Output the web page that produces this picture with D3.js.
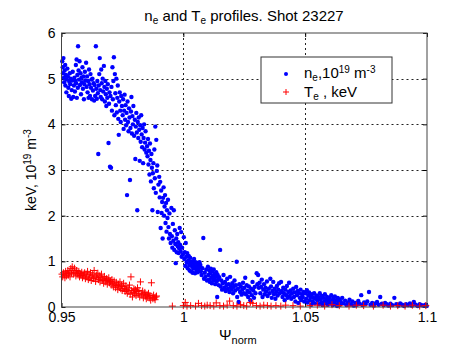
<!DOCTYPE html>
<html>
<head>
<meta charset="utf-8">
<script src="https://cdn.jsdelivr.net/npm/d3@7"></script>
<style>
  body { margin: 0; background: #fff; }
  svg { font-family: "Liberation Sans", Arial, sans-serif; }
</style>
</head>
<body>
<svg width="474" height="351"></svg>
<script>
// axis ticks
var xTicks = [0.95, 1, 1.05, 1.1];
var yTicks = [0, 1, 2, 3, 4, 5, 6];

// n_e points (psi_norm, 10^19 m^-3)
var nePoints = [
  [0.9503,5.38],[0.9505,5.25],[0.9506,5.12],[0.9508,5.45],[0.951,5.02],[0.9511,4.92],[0.9513,5.18],[0.9515,5.3],[0.9516,4.85],[0.9518,5.08],[0.952,4.7],[0.9522,4.98],[0.9524,5.22],[0.9526,5.05],[0.9528,4.8],[0.953,4.62],[0.9532,4.93],[0.9534,5.12],[0.9536,4.88],[0.9538,5.0],[0.954,4.56],[0.9542,4.75],[0.9544,4.96],[0.9546,5.15],[0.9548,4.6],
  [0.9551,4.85],[0.9553,5.02],[0.9555,4.72],[0.9557,4.95],[0.9559,5.3],[0.956,4.9],[0.9562,5.42],[0.9563,4.58],[0.9565,5.08],[0.9567,4.8],[0.9568,5.71],[0.957,5.18],[0.9572,4.98],[0.9574,5.38],[0.9576,4.86],[0.9578,5.12],[0.958,4.66],[0.9582,5.02],[0.9584,4.92],[0.9586,5.25],[0.9588,4.78],[0.959,5.05],[0.9592,4.55],[0.9594,4.88],[0.9596,5.15],[0.9598,4.96],
  [0.9601,5.35],[0.9603,4.82],[0.9605,5.05],[0.9607,4.7],[0.9609,4.95],[0.9611,4.58],[0.9613,5.2],[0.9615,4.88],[0.9617,4.62],[0.9619,5.1],[0.9621,4.8],[0.9623,4.98],[0.9625,4.55],[0.9627,5.0],[0.9629,4.74],[0.9632,4.9],[0.9634,4.52],[0.9636,4.86],[0.9638,4.62],[0.9641,5.71],[0.9643,4.78],[0.9645,4.56],[0.9647,4.95],[0.9649,4.68],
  [0.9651,3.35],[0.9653,4.85],[0.9655,5.1],[0.9657,5.45],[0.9659,4.75],[0.9661,4.6],[0.9663,5.2],[0.9665,4.9],[0.9667,4.55],[0.9669,5.0],[0.9671,4.72],[0.9674,5.28],[0.9676,4.82],[0.9678,4.5],[0.968,4.95],[0.9682,4.66],[0.9684,4.4],[0.9686,4.78],[0.9688,4.58],[0.969,4.88],[0.9693,3.59],[0.9695,4.45],[0.9697,4.7],[0.9699,3.07],
  [0.9701,4.62],[0.9703,3.05],[0.9705,4.82],[0.9707,4.3],[0.9709,5.25],[0.9711,4.55],[0.9713,4.95],[0.9715,5.47],[0.9717,4.2],[0.9719,5.1],[0.9721,4.68],[0.9723,4.42],[0.9725,5.0],[0.9727,4.26],[0.9729,4.58],[0.9731,4.85],[0.9733,4.12],[0.9735,3.77],[0.9737,4.5],[0.9739,4.7],[0.9741,4.3],[0.9743,4.05],[0.9745,4.62],[0.9748,4.4],
  [0.9751,4.2],[0.9753,4.55],[0.9755,3.9],[0.9757,4.3],[0.9759,4.65],[0.9761,4.1],[0.9763,4.42],[0.9765,3.98],[0.9767,4.25],[0.9769,2.45],[0.9771,4.5],[0.9773,4.05],[0.9775,3.85],[0.9777,4.35],[0.9779,4.15],[0.9781,2.78],[0.9783,3.92],[0.9785,4.28],[0.9787,4.6],[0.9789,3.8],[0.9791,4.18],[0.9793,4.0],[0.9795,4.4],[0.9798,3.75],
  [0.9801,4.1],[0.9803,3.24],[0.9805,3.95],[0.9807,4.25],[0.9809,3.82],[0.9811,2.12],[0.9813,4.05],[0.9815,3.7],[0.9817,4.15],[0.9819,3.88],[0.9821,3.2],[0.9823,3.98],[0.9825,3.62],[0.9827,4.2],[0.9829,3.78],[0.9831,3.5],[0.9833,3.92],[0.9835,3.15],[0.9837,3.7],[0.9839,4.0],[0.9841,3.45],[0.9843,3.6],[0.9845,3.85],[0.9848,3.38],
  [0.9851,3.52],[0.9853,3.3],[0.9855,3.68],[0.9857,3.12],[0.9859,3.42],[0.9861,2.9],[0.9863,3.58],[0.9865,3.22],[0.9867,2.75],[0.9869,3.35],[0.9871,3.05],[0.9873,2.12],[0.9875,2.93],[0.9877,3.15],[0.9879,2.6],[0.9881,3.45],[0.9883,2.82],[0.9885,3.95],[0.9887,2.5],[0.9889,3.66],[0.9891,2.98],[0.9893,3.1],[0.9895,2.08],[0.9898,2.68],
  [0.9901,2.85],[0.9903,2.4],[0.9905,2.74],[0.9907,1.73],[0.9909,2.55],[0.9911,2.06],[0.9913,2.3],[0.9915,1.5],[0.9917,2.39],[0.9919,2.62],[0.9921,2.0],[0.9923,2.2],[0.9925,2.45],[0.9927,1.84],[0.9929,2.28],[0.9931,1.65],[0.9933,2.12],[0.9935,1.95],[0.9937,2.35],[0.9939,1.75],[0.9941,1.5],[0.9943,2.05],[0.9945,1.6],[0.9948,1.4],
  [0.9951,2.17],[0.9953,1.55],[0.9955,1.3],[0.9957,1.82],[0.9959,1.45],[0.9961,2.12],[0.9963,1.25],[0.9965,1.68],[0.9967,1.38],[0.9969,0.96],[0.9971,1.5],[0.9973,1.2],[0.9975,1.6],[0.9977,1.33],[0.9979,1.42],[0.9981,1.18],[0.9983,1.28],[0.9985,1.73],[0.9987,1.36],[0.9989,1.22],[0.9991,1.64],[0.9993,1.1],[0.9995,1.3],[0.9998,1.15],
  [1.0002,1.53],[1.0004,1.05],[1.0006,1.2],[1.0008,0.9],[1.001,1.4],[1.0012,1.1],[1.0014,0.98],[1.0016,1.18],[1.0018,0.85],[1.002,1.02],[1.0022,1.12],[1.0024,0.92],[1.0026,0.8],[1.0028,1.08],[1.003,0.95],[1.0032,0.78],[1.0034,1.0],[1.0036,0.88],[1.0038,0.75],[1.004,0.96],[1.0042,0.84],[1.0044,1.05],[1.0046,0.9],[1.0048,0.74],
  [1.0051,0.98],[1.0053,0.86],[1.0055,0.8],[1.0057,0.92],[1.0059,0.76],[1.0061,0.95],[1.0063,0.84],[1.0066,0.98],[1.0068,0.88],[1.007,0.92],[1.0072,0.78],[1.0075,0.7],[1.0078,0.85],[1.0082,1.51],[1.0085,0.62],[1.0088,0.75],[1.0091,0.66],[1.0094,0.82],[1.0097,0.58],
  [1.0101,0.88],[1.0103,0.7],[1.0105,0.6],[1.0107,0.8],[1.0109,0.55],[1.0111,0.74],[1.0113,0.84],[1.0115,0.64],[1.0117,0.52],[1.0119,0.78],[1.0121,0.68],[1.0123,0.58],[1.0125,0.82],[1.0127,0.62],[1.0129,0.72],[1.0131,0.5],[1.0133,0.66],[1.0135,0.76],[1.0137,0.56],[1.0139,0.22],[1.0141,0.7],[1.0143,0.6],[1.0145,0.48],[1.0147,0.65],[1.0151,1.25],
  [1.0153,0.45],[1.0156,0.58],[1.0159,0.38],[1.0162,0.52],[1.0165,0.7],[1.0168,0.42],[1.0171,0.55],[1.0174,0.35],[1.0177,0.48],[1.018,0.62],[1.0183,0.4],[1.0186,0.5],[1.0189,0.33],[1.0192,0.66],[1.0195,0.45],[1.0198,0.38],
  [1.0201,0.52],[1.0204,0.3],[1.0207,0.44],[1.021,0.58],[1.0213,0.36],[1.0216,0.48],[1.0219,0.99],[1.0221,0.22],[1.0224,0.4],[1.0227,0.11],[1.023,0.5],[1.0233,0.33],[1.0236,0.45],[1.0239,0.27],[1.0242,0.38],[1.0245,0.53],[1.0248,0.3],
  [1.0251,0.42],[1.0254,0.64],[1.0257,0.28],[1.026,0.48],[1.0263,0.35],[1.0266,0.22],[1.0269,0.45],[1.0272,0.32],[1.0275,0.15],[1.0278,0.4],[1.0281,0.26],[1.0284,0.55],[1.0287,0.36],[1.029,0.2],[1.0293,0.44],[1.0296,0.3],
  [1.0301,0.74],[1.0304,0.5],[1.0307,0.7],[1.031,0.42],[1.0313,0.53],[1.0316,0.3],[1.0319,0.44],[1.0322,0.6],[1.0325,0.22],[1.0328,0.38],[1.0331,0.5],[1.0334,0.28],[1.0337,0.42],[1.034,0.34],[1.0343,0.56],[1.0346,0.24],
  [1.0351,0.4],[1.0354,0.3],[1.0357,0.62],[1.036,0.45],[1.0363,0.2],[1.0366,0.35],[1.0369,0.55],[1.0372,0.28],[1.0375,0.4],[1.0378,0.18],[1.0381,0.33],[1.0384,0.46],[1.0387,0.25],[1.039,0.38],[1.0393,0.52],[1.0396,0.3],
  [1.0401,0.55],[1.0404,0.35],[1.0407,0.22],[1.041,0.42],[1.0413,0.3],[1.0416,0.15],[1.0419,0.38],[1.0422,0.26],[1.0425,0.46],[1.0428,0.2],[1.0431,0.33],[1.0434,0.53],[1.0437,0.24],[1.044,0.36],[1.0443,0.18],[1.0446,0.3],
  [1.0451,0.4],[1.0454,0.22],[1.0457,0.32],[1.046,0.12],[1.0463,0.44],[1.0466,0.26],[1.0469,0.35],[1.0472,0.09],[1.0475,0.3],[1.0478,0.2],[1.0481,0.38],[1.0484,0.15],[1.0487,0.28],[1.049,0.22],[1.0493,0.33],[1.0496,0.12],
  [1.0501,0.3],[1.0504,0.18],[1.0507,0.37],[1.051,0.1],[1.0513,0.25],[1.0516,0.32],[1.0519,0.15],[1.0522,0.22],[1.0525,0.05],[1.0528,0.28],[1.0531,0.12],[1.0534,0.2],[1.0537,0.3],[1.054,0.08],[1.0543,0.18],[1.0546,0.25],
  [1.0551,0.14],[1.0554,0.22],[1.0557,0.06],[1.056,0.3],[1.0563,0.17],[1.0566,0.1],[1.0569,0.24],[1.0572,0.04],[1.0575,0.2],[1.0578,0.12],[1.0581,0.28],[1.0584,0.08],[1.0587,0.16],[1.059,0.22],[1.0593,0.05],[1.0596,0.13],
  [1.0601,0.2],[1.0604,0.08],[1.0607,0.26],[1.061,0.14],[1.0613,0.04],[1.0616,0.18],[1.0619,0.1],[1.0622,0.23],[1.0625,0.06],[1.0628,0.15],[1.0631,0.02],[1.0634,0.2],[1.0637,0.1],[1.064,0.16],[1.0643,0.05],[1.0646,0.12],
  [1.0652,0.2],[1.0658,0.08],[1.0664,0.14],[1.067,0.04],[1.0676,0.1],[1.0682,0.16],[1.0688,0.06],[1.0694,0.12],[1.07,0.03],[1.0706,0.09],[1.0712,0.05],[1.0718,0.13],[1.0724,0.07],[1.073,0.26],[1.0736,0.04],[1.0742,0.1],[1.0748,0.06],
  [1.0755,0.12],[1.0762,0.33],[1.0768,0.05],[1.0775,0.09],[1.0782,0.03],[1.0788,0.08],[1.0795,0.11],[1.0802,0.05],[1.0808,0.22],[1.0815,0.07],[1.0822,0.04],[1.0828,0.09],[1.0835,0.06],[1.0842,0.03],
  [1.085,0.07],[1.0858,0.04],[1.0866,0.2],[1.0874,0.06],[1.0882,0.03],[1.089,0.08],[1.0898,0.05],[1.0906,0.02],[1.0914,0.06],[1.0922,0.04],[1.093,0.08],[1.0938,0.03],[1.0946,0.11],[1.0954,0.05],[1.0962,0.02],[1.097,0.06],[1.0978,0.04],[1.0986,0.03],[1.0994,0.05],[1.0999,0.02]
];

// T_e points (psi_norm, keV)
var tePoints = [
  [0.9502,0.72],[0.9505,0.66],[0.9508,0.75],[0.9511,0.7],[0.9514,0.64],[0.9517,0.78],[0.952,0.68],[0.9523,0.73],[0.9526,0.8],[0.9529,0.7],[0.9532,0.76],[0.9535,0.66],[0.9538,0.84],[0.9541,0.74],[0.9544,0.88],[0.9547,0.8],[0.955,0.72],[0.9553,0.85],[0.9556,0.76],[0.9559,0.68],[0.9562,0.8],[0.9565,0.74],[0.9568,0.7],[0.9571,0.78],[0.9574,0.66],[0.9577,0.73],[0.958,0.69],[0.9583,0.76],[0.9586,0.64],[0.9589,0.72],[0.9592,0.68],[0.9595,0.75],[0.9598,0.62],
  [0.9601,0.72],[0.9604,0.66],[0.9607,0.78],[0.961,0.6],[0.9613,0.7],[0.9616,0.64],[0.9619,0.75],[0.9622,0.58],[0.9625,0.68],[0.9628,0.72],[0.9631,0.62],[0.9634,0.8],[0.9637,0.66],[0.964,0.56],[0.9643,0.7],[0.9646,0.64],[0.9649,0.74],[0.9652,0.6],[0.9655,0.68],[0.9658,0.55],[0.9661,0.65],[0.9664,0.72],[0.9667,0.58],[0.967,0.63],[0.9673,0.52],[0.9676,0.67],[0.9679,0.6],[0.9682,0.55],[0.9685,0.62],[0.9688,0.5],[0.9691,0.58],[0.9694,0.64],[0.9697,0.53],
  [0.9701,0.56],[0.9704,0.48],[0.9707,0.6],[0.971,0.52],[0.9713,0.44],[0.9716,0.57],[0.9719,0.5],[0.9722,0.42],[0.9725,0.54],[0.9728,0.47],[0.9731,0.38],[0.9734,0.5],[0.9737,0.44],[0.974,0.55],[0.9743,0.4],[0.9746,0.48],[0.9749,0.36],[0.9752,0.45],[0.9755,0.52],[0.9758,0.4],[0.9761,0.34],[0.9764,0.46],[0.9767,0.38],[0.977,0.3],[0.9773,0.42],[0.9776,0.35],[0.9779,0.48],[0.9782,0.28],[0.9785,0.66],[0.9788,0.36],[0.9791,0.22],[0.9794,0.32],[0.9797,0.4],
  [0.98,0.3],[0.9803,0.38],[0.9806,0.25],[0.9809,0.34],[0.9812,0.42],[0.9815,0.28],[0.9818,0.36],[0.9821,0.22],[0.9824,0.55],[0.9827,0.3],[0.983,0.26],[0.9833,0.35],[0.9836,0.2],[0.9839,0.28],[0.9842,0.32],[0.9845,0.24],[0.9848,0.18],[0.9851,0.27],[0.9854,0.22],[0.9857,0.3],[0.986,0.2],[0.9863,0.25],[0.9866,0.15],[0.9869,0.53],[0.9872,0.22],[0.9875,0.18],[0.9878,0.26],[0.9881,0.2],[0.9884,0.16],[0.9887,0.22],[0.989,0.24],
  [0.9955,0.02],[1.0,0.03],[1.0008,0.1],[1.0015,0.02],[1.003,0.03],[1.005,0.02],[1.0062,0.08],[1.0075,0.03],[1.0088,0.02],[1.0098,0.04],[1.011,0.03],[1.0125,0.02],[1.0135,0.09],[1.015,0.03],[1.0165,0.02],[1.018,0.04],[1.019,0.13],[1.0205,0.03],[1.022,0.02],[1.0235,0.05],[1.0248,0.03],[1.026,0.02],[1.0275,0.1],[1.0285,0.08],[1.03,0.03],[1.0315,0.02],[1.033,0.04],[1.0345,0.03],[1.036,0.02],[1.038,0.03],[1.04,0.02],[1.042,0.04],[1.045,0.03],[1.048,0.02],[1.052,0.03],[1.055,0.04],[1.058,0.02],[1.061,0.05],[1.064,0.03],[1.068,0.02],[1.071,0.04],[1.074,0.03],[1.078,0.02],[1.082,0.04],[1.085,0.02],[1.088,0.03],[1.091,0.02],[1.094,0.04],[1.097,0.02],[1.0995,0.03]
];

var svg = d3.select("svg");
var pLeft = 61.5, pRight = 427, pTop = 33, pBottom = 307;

var x = d3.scaleLinear().domain([0.95, 1.1]).range([pLeft, pRight]);
var y = d3.scaleLinear().domain([0, 6]).range([pBottom, pTop]);

// grid (dotted, inner ticks only)
var grid = svg.append("g").attr("stroke", "#222").attr("stroke-width", 1)
  .attr("stroke-dasharray", "2,3");
grid.selectAll(".gx").data(xTicks.slice(1, -1)).enter().append("line")
  .attr("x1", d => Math.round(x(d)) + 0.5).attr("x2", d => Math.round(x(d)) + 0.5)
  .attr("y1", pTop).attr("y2", pBottom);
grid.selectAll(".gy").data(yTicks.slice(1, -1)).enter().append("line")
  .attr("y1", d => Math.round(y(d)) + 0.5).attr("y2", d => Math.round(y(d)) + 0.5)
  .attr("x1", pLeft).attr("x2", pRight);

// axes with inward ticks
var fmt = d => String(d);
svg.append("g")
  .attr("transform", "translate(0," + pBottom + ")")
  .call(d3.axisBottom(x).tickValues(xTicks).tickSize(-4).tickPadding(5).tickFormat(fmt))
  .call(g => g.select(".domain").remove());
svg.append("g")
  .attr("transform", "translate(" + pLeft + ",0)")
  .call(d3.axisLeft(y).tickValues(yTicks).tickSize(-4).tickPadding(6).tickFormat(fmt))
  .call(g => g.select(".domain").remove());
svg.append("g")
  .attr("transform", "translate(0," + pTop + ")")
  .call(d3.axisTop(x).tickValues(xTicks).tickSize(-4).tickFormat(""))
  .call(g => g.select(".domain").remove());
svg.append("g")
  .attr("transform", "translate(" + pRight + ",0)")
  .call(d3.axisRight(y).tickValues(yTicks).tickSize(-4).tickFormat(""))
  .call(g => g.select(".domain").remove());
svg.selectAll(".tick text").attr("font-size", 14).attr("fill", "#000")
  .attr("font-family", "Liberation Sans, Arial, sans-serif");
svg.selectAll(".tick line").attr("stroke", "#000");

// markers
svg.append("g").selectAll("circle").data(nePoints).enter().append("circle")
  .attr("cx", d => x(d[0])).attr("cy", d => y(d[1])).attr("r", 2.2)
  .attr("fill", "#0000ff");
svg.append("g").selectAll("path").data(tePoints).enter().append("path")
  .attr("transform", d => "translate(" + x(d[0]) + "," + y(d[1]) + ")")
  .attr("d", "M-3.5,0H3.5M0,-3.5V3.5")
  .attr("stroke", "#ff0000").attr("stroke-width", 1).attr("fill", "none");

// frame
svg.append("rect").attr("x", pLeft).attr("y", pTop)
  .attr("width", pRight - pLeft).attr("height", pBottom - pTop)
  .attr("fill", "none").attr("stroke", "#444").attr("stroke-width", 1);

// title
var title = svg.append("text").attr("x", 244).attr("y", 21)
  .attr("text-anchor", "middle").attr("font-size", 15).attr("fill", "#000");
title.append("tspan").text("n");
title.append("tspan").attr("dy", 3).attr("font-size", 10).text("e");
title.append("tspan").attr("dy", -3).text(" and T");
title.append("tspan").attr("dy", 3).attr("font-size", 10).text("e");
title.append("tspan").attr("dy", -3).text("  profiles. Shot 23227");

// y label
var yl = svg.append("text")
  .attr("transform", "translate(36,170) rotate(-90)")
  .attr("text-anchor", "middle").attr("font-size", 14).attr("fill", "#000");
yl.append("tspan").text("keV, 10");
yl.append("tspan").attr("dy", -5).attr("font-size", 10).text("19");
yl.append("tspan").attr("dy", 5).text("  m");
yl.append("tspan").attr("dy", -5).attr("font-size", 10).text("-3");

// x label
var xl = svg.append("text").attr("x", 219).attr("y", 340)
  .attr("font-size", 15).attr("fill", "#000");
xl.append("tspan").text("\u03A8");
xl.append("tspan").attr("dy", 4).attr("font-size", 11).text("norm");

// legend
var lg = svg.append("g").attr("transform", "translate(261,57)");
lg.append("rect").attr("width", 131).attr("height", 46)
  .attr("fill", "#fff").attr("stroke", "#333").attr("stroke-width", 1);
lg.append("circle").attr("cx", 25).attr("cy", 17).attr("r", 2).attr("fill", "#0000ff");
lg.append("path").attr("d", "M22,35H28M25,32V38").attr("stroke", "#ff0000").attr("stroke-width", 1);
var l1 = lg.append("text").attr("x", 43).attr("y", 21).attr("font-size", 15).attr("fill", "#000");
l1.append("tspan").text("n");
l1.append("tspan").attr("dy", 3).attr("font-size", 10).text("e");
l1.append("tspan").attr("dy", -3).text(",10");
l1.append("tspan").attr("dy", -5).attr("font-size", 10).text("19");
l1.append("tspan").attr("dy", 5).text(" m");
l1.append("tspan").attr("dy", -5).attr("font-size", 10).text("-3");
var l2 = lg.append("text").attr("x", 43).attr("y", 40).attr("font-size", 15).attr("fill", "#000");
l2.append("tspan").text("T");
l2.append("tspan").attr("dy", 3).attr("font-size", 10).text("e");
l2.append("tspan").attr("dy", -3).text(" , keV");
</script>
</body>
</html>
